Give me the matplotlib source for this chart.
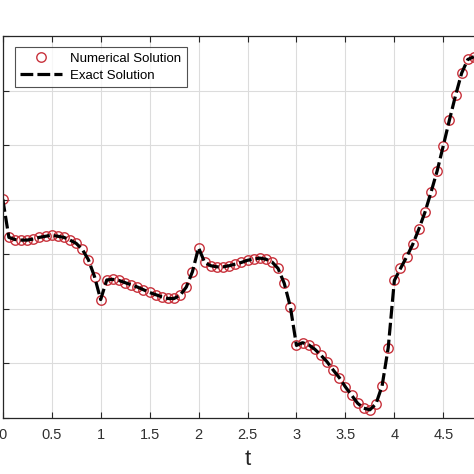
import numpy as np
import matplotlib
matplotlib.use('Agg')
import matplotlib.pyplot as plt

plt.rcParams['font.family'] = ['Liberation Sans', 'DejaVu Sans']

# Time grid (step 1/16) and solution values
dt = 1 / 16
u_exact = [4.01, 3.31, 3.27, 3.26, 3.26, 3.28, 3.31, 3.33, 3.35, 3.33,
           3.31, 3.26, 3.20, 3.09, 2.90, 2.59, 2.17, 2.53, 2.54, 2.52,
           2.48, 2.44, 2.40, 2.35, 2.30, 2.26, 2.22, 2.19, 2.19, 2.25,
           2.40, 2.68, 3.12, 2.85, 2.79, 2.77, 2.77, 2.79, 2.82, 2.85,
           2.89, 2.91, 2.93, 2.91, 2.86, 2.74, 2.47, 2.04, 1.33, 1.38,
           1.34, 1.26, 1.15, 1.03, 0.88, 0.74, 0.57, 0.42, 0.27, 0.18,
           0.15, 0.26, 0.59, 1.29, 2.52, 2.74, 2.95, 3.18, 3.46, 3.77,
           4.14, 4.53, 4.99, 5.46, 5.91, 6.32, 6.57, 6.62]
u_num = list(u_exact)  # numerical solution lies on the exact one
t = np.arange(len(u_exact)) * dt

xticks = [0, 0.5, 1, 1.5, 2, 2.5, 3, 3.5, 4, 4.5]
xticklabels = ['0', '0.5', '1', '1.5', '2', '2.5', '3', '3.5', '4', '4.5']

fig = plt.figure(figsize=(4.74, 4.74), dpi=100)
W = 474
ax = fig.add_axes([2.75 / W, (W - 418) / W, 489.5 / W, 382 / W])

ax.plot(t, u_num, 'o', mfc='none', mec='#C8323C', ms=6.8, mew=1.0,
        label='Numerical Solution')
ax.plot(t, u_exact, color='black', lw=2.3, dashes=(4, 1.3),
        label='Exact Solution')

ax.set_xlim(0, 5)
ax.set_ylim(0, 7)
ax.set_xticks(xticks)
ax.set_xticklabels(xticklabels, fontsize=10.5, color='#303030')
ax.set_yticks(range(0, 8))
ax.set_yticklabels([])
ax.tick_params(direction='in', length=4, width=0.8, color='#262626',
               top=True, right=True, pad=7)
ax.grid(True, color='#dcdcdc', lw=0.8)
ax.set_axisbelow(True)
for s in ax.spines.values():
    s.set_color('#262626')
    s.set_linewidth(0.9)

ax.set_xlabel('t', fontsize=16, color='#262626', labelpad=5)

leg = ax.legend(loc='upper left', bbox_to_anchor=(12 / 489.5, 1 - 11 / 382),
                fontsize=9.5, frameon=True, fancybox=False, edgecolor='#262626',
                handlelength=3.2, borderpad=0.4, labelspacing=0.4,
                handletextpad=0.6, borderaxespad=0)
leg.get_frame().set_linewidth(0.8)

fig.savefig('out.png', dpi=100)
